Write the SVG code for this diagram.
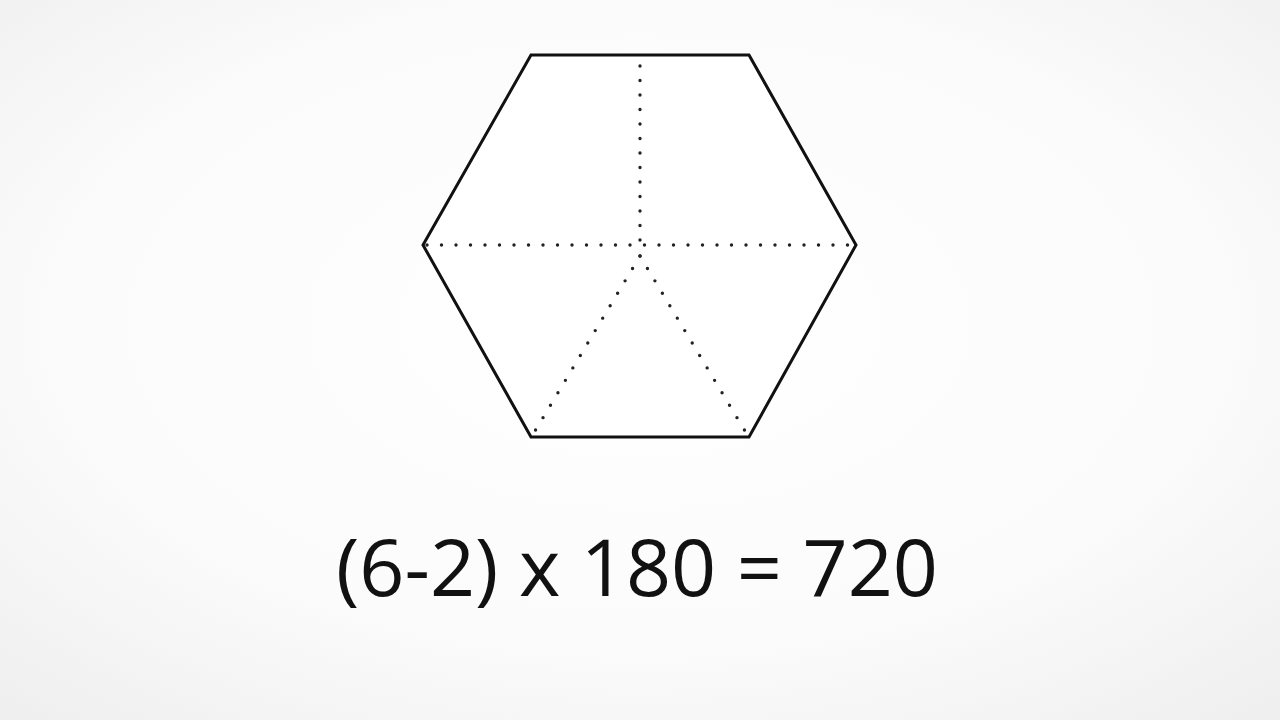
<svg xmlns="http://www.w3.org/2000/svg" width="1280" height="720" viewBox="0 0 1280 720">
<defs>
<radialGradient id="bg" cx="50%" cy="45%" r="75%">
<stop offset="0" stop-color="#ffffff"/>
<stop offset="0.6" stop-color="#fbfbfb"/>
<stop offset="1" stop-color="#eeeeee"/>
</radialGradient>
<style>
.hex{fill:#ffffff;stroke:#111111;stroke-width:3;stroke-linejoin:miter}
.dot{fill:none;stroke:#222222;stroke-width:3.4;stroke-linecap:round;stroke-dasharray:0 14.5}
.eq{font-family:"Open Sans","Noto Sans","Liberation Sans",sans-serif;font-size:79px;fill:#111111}
</style>
</defs>
<rect width="1280" height="720" fill="url(#bg)"/>
<g id="hexagon">
<polygon class="hex" points="531,55 749,55 856,245 749,437 531,437 423,245"/>
</g>
<g id="connectors">
<line class="dot" x1="640" y1="66" x2="640" y2="245"/>
<line class="dot" x1="427" y1="245" x2="856" y2="245"/>
<line class="dot" x1="640" y1="256" x2="535" y2="431"/>
<line class="dot" x1="640" y1="256" x2="745" y2="431"/>
</g>
<g id="equation">
<text class="eq" x="637" y="596" text-anchor="middle">(6-2) x 180 = 720</text>
</g>
</svg>
